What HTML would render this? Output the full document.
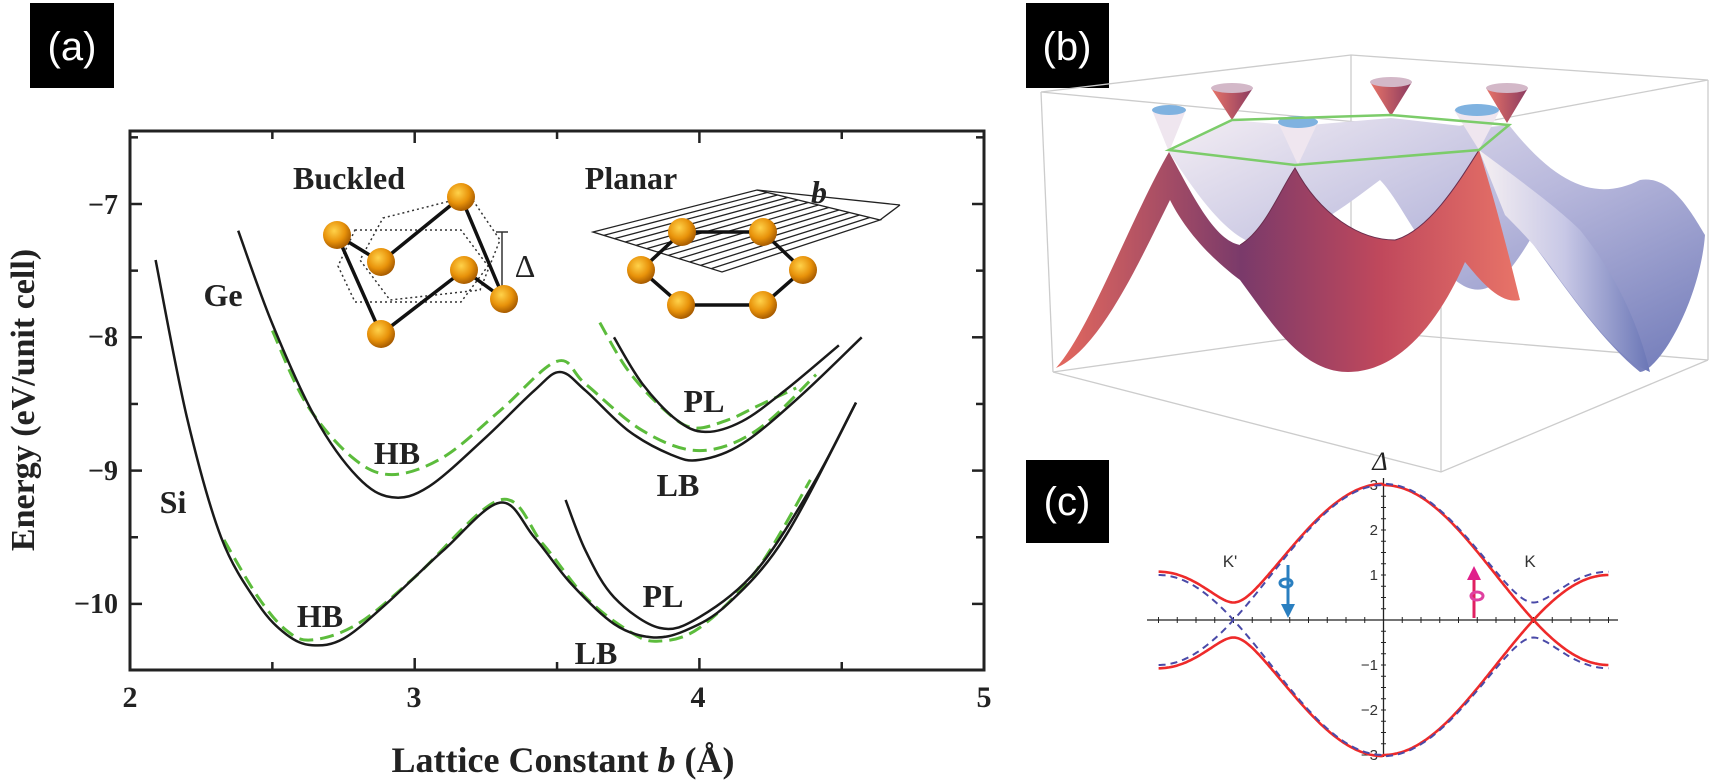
<!DOCTYPE html>
<html><head><meta charset="utf-8"><style>
html,body{margin:0;padding:0;background:#fff;}
svg{display:block;}
.t{font-family:"Liberation Serif",serif;font-weight:bold;fill:#222;}
.s{font-family:"Liberation Sans",sans-serif;fill:#333;}
</style></head><body>
<svg id="sv" width="1710" height="784" viewBox="0 0 1710 784" xmlns="http://www.w3.org/2000/svg">
<defs>
<radialGradient id="atom" cx="0.4" cy="0.35" r="0.65"><stop offset="0" stop-color="#ffd24a"/><stop offset="0.6" stop-color="#e8920a"/><stop offset="1" stop-color="#a85c00"/></radialGradient>
<linearGradient id="red1" x1="0" y1="0" x2="1" y2="0"><stop offset="0" stop-color="#e4685e"/><stop offset="0.4" stop-color="#7a3a6a"/><stop offset="0.7" stop-color="#c0485c"/><stop offset="1" stop-color="#e87468"/></linearGradient>
<linearGradient id="wb" x1="0" y1="0" x2="1" y2="1"><stop offset="0" stop-color="#f4eef4"/><stop offset="0.5" stop-color="#b8b8dc"/><stop offset="1" stop-color="#6f79b8"/></linearGradient>
<linearGradient id="wb2" x1="0" y1="0" x2="1" y2="0"><stop offset="0" stop-color="#f6f0f2"/><stop offset="0.5" stop-color="#c8c8e6"/><stop offset="1" stop-color="#6a76b6"/></linearGradient>
<linearGradient id="cone" x1="0" y1="0" x2="1" y2="0"><stop offset="0" stop-color="#e87468"/><stop offset="1" stop-color="#8a3a60"/></linearGradient>
</defs>

<rect x="30" y="3" width="84" height="85" fill="#000"/>
<text x="72" y="60" text-anchor="middle" font-family="Liberation Sans,sans-serif" font-size="40" fill="#fff">(a)</text>

<rect x="130" y="131" width="854" height="539" fill="none" stroke="#222" stroke-width="3"/>
<g id="ticks" stroke="#222" stroke-width="2.5"></g>
<g class="t" font-size="28" text-anchor="end">
<text x="118" y="214">−7</text><text x="118" y="346">−8</text><text x="118" y="480">−9</text><text x="118" y="613">−10</text>
</g>
<g class="t" font-size="30" text-anchor="middle">
<text x="130" y="707">2</text><text x="414" y="707">3</text><text x="698" y="707">4</text><text x="984" y="707">5</text>
</g>
<text class="t" x="563" y="772" font-size="36" text-anchor="middle">Lattice Constant <tspan font-style="italic">b</tspan> (Å)</text>
<text class="t" transform="translate(34,400) rotate(-90)" font-size="34" text-anchor="middle">Energy (eV/unit cell)</text>

<g id="curves" fill="none"></g>

<g class="t" font-size="32" text-anchor="middle">
<text x="349" y="189">Buckled</text><text x="631" y="189">Planar</text>
<text x="223" y="306">Ge</text><text x="173" y="513">Si</text>
<text x="397" y="464">HB</text><text x="704" y="412">PL</text><text x="678" y="496">LB</text>
<text x="320" y="627">HB</text><text x="663" y="607">PL</text><text x="596" y="664">LB</text>
<text x="819" y="203" font-style="italic">b</text>
<text x="525" y="277" font-weight="normal">Δ</text>
</g>

<g fill="none" stroke="#333" stroke-width="1.5" stroke-dasharray="2,3">
<polygon points="355,230 461,230 488,266 461,302 355,302 338,266"/>
<polygon points="383,218 470,196 500,240 480,290 390,300 360,260"/>
</g>
<line x1="502" y1="232" x2="502" y2="300" stroke="#333" stroke-width="1.5"/>
<line x1="496" y1="232" x2="508" y2="232" stroke="#333" stroke-width="1.5"/>
<g stroke="#111" stroke-width="3.5">
<polyline fill="none" points="337,235 381,262 461,197 504,299 464,270 381,334 337,235"/>
</g>
<g fill="url(#atom)">
<circle cx="337" cy="235" r="14"/><circle cx="381" cy="262" r="14"/><circle cx="461" cy="197" r="14"/>
<circle cx="464" cy="270" r="14"/><circle cx="504" cy="299" r="14"/><circle cx="381" cy="334" r="14"/>
</g>
<g id="plane" stroke="#222" stroke-width="1.3" fill="none"></g>
<g stroke="#111" stroke-width="3.5" fill="none">
<polygon points="682,232 763,232 803,270 763,305 681,305 641,270"/>
</g>
<g fill="url(#atom)">
<circle cx="682" cy="232" r="14"/><circle cx="763" cy="232" r="14"/><circle cx="641" cy="270" r="14"/>
<circle cx="803" cy="270" r="14"/><circle cx="681" cy="305" r="14"/><circle cx="763" cy="305" r="14"/>
</g>

<rect x="1026" y="3" width="83" height="85" fill="#000"/>
<text x="1067" y="60" text-anchor="middle" font-family="Liberation Sans,sans-serif" font-size="40" fill="#fff">(b)</text>
<g stroke="#ccc" stroke-width="1.3" fill="none">
<polyline points="1041,92 1351,55 1708,80 1441,130 1041,92"/>
<line x1="1041" y1="92" x2="1053" y2="372"/>
<line x1="1441" y1="130" x2="1441" y2="472"/>
<line x1="1708" y1="80" x2="1708" y2="360"/>
<line x1="1351" y1="55" x2="1351" y2="330"/>
<polyline points="1053,372 1441,472 1708,360"/>
<polyline points="1053,372 1351,330 1708,360"/>
</g>
<path d="M1169,152 L1232,120 L1298,126 L1391,118 L1479,128 L1509,125 C1560,190 1600,200 1640,180 C1670,175 1690,210 1705,235 C1700,300 1660,370 1640,372 C1600,340 1560,280 1530,240 C1500,290 1480,300 1455,280 C1420,250 1400,200 1380,180 C1340,210 1300,240 1260,245 C1230,240 1200,200 1169,152 Z" fill="url(#wb)"/>
<path d="M1479,150 C1520,180 1560,210 1580,230 C1620,280 1640,330 1650,372 C1620,360 1590,320 1560,280 C1540,250 1520,230 1505,215 Z" fill="url(#wb2)"/>
<path d="M1056,368 C1090,330 1130,220 1169,152 C1195,200 1215,240 1240,245 C1265,230 1280,190 1295,168 C1320,215 1360,240 1395,240 C1430,230 1460,180 1479,150 C1495,200 1510,260 1520,300 C1500,305 1480,280 1465,262 C1440,320 1400,372 1348,372 C1300,372 1270,320 1240,280 C1200,250 1180,220 1170,200 C1140,260 1100,350 1056,368 Z" fill="url(#red1)"/>
<path d="M1240,245 C1265,230 1280,190 1295,168 C1320,215 1360,240 1395,240 C1430,230 1460,180 1479,150" fill="none" stroke="#6a2e4e" stroke-width="1"/>
<g>
<polygon points="1211,88 1253,88 1232,120" fill="url(#cone)"/><ellipse cx="1232" cy="88" rx="21" ry="5" fill="#d3b8c8"/>
<polygon points="1370,82 1412,82 1391,116" fill="url(#cone)"/><ellipse cx="1391" cy="82" rx="21" ry="5" fill="#d3b8c8"/>
<polygon points="1486,88 1528,88 1507,123" fill="url(#cone)"/><ellipse cx="1507" cy="88" rx="21" ry="5" fill="#d3b8c8"/>
<polygon points="1152,110 1186,110 1169,152" fill="#efe6ef"/><ellipse cx="1169" cy="110" rx="17" ry="5" fill="#7fb2e0"/>
<polygon points="1278,122 1318,122 1298,165" fill="#efe6ef"/><ellipse cx="1298" cy="122" rx="20" ry="6" fill="#7fb2e0"/>
<polygon points="1454,110 1500,110 1479,150" fill="#efe6ef"/><ellipse cx="1477" cy="110" rx="22" ry="6" fill="#7fb2e0"/>
</g>
<polygon points="1169,150 1232,120 1391,115 1509,125 1479,150 1295,165" fill="none" stroke="#7ccc6a" stroke-width="2.5"/>

<rect x="1026" y="460" width="83" height="83" fill="#000"/>
<text x="1067" y="515" text-anchor="middle" font-family="Liberation Sans,sans-serif" font-size="40" fill="#fff">(c)</text>
<g stroke="#222" stroke-width="1.3">
<line x1="1147" y1="620" x2="1618" y2="620"/>
<line x1="1383.5" y1="478" x2="1383.5" y2="757"/>
</g>
<g id="cticks" stroke="#222" stroke-width="1"></g>
<g class="s" font-size="15" text-anchor="end">
<text x="1378" y="490">3</text><text x="1378" y="535">2</text><text x="1378" y="580">1</text>
<text x="1378" y="670">−1</text><text x="1378" y="715">−2</text><text x="1378" y="760">−3</text>
</g>
<text x="1380" y="470" font-family="Liberation Serif,serif" font-style="italic" font-size="26" text-anchor="middle" fill="#222">Δ</text>
<text class="s" x="1230" y="567" font-size="17" text-anchor="middle">K'</text>
<text class="s" x="1530" y="567" font-size="17" text-anchor="middle">K</text>
<g id="ccurves" fill="none"></g>
<g stroke="#2a7fc0" stroke-width="3" fill="none">
<line x1="1288" y1="565" x2="1288" y2="608"/>
<ellipse cx="1286" cy="583" rx="6" ry="4"/>
</g>
<polygon points="1281,604 1295,604 1288,618" fill="#2a7fc0"/>
<g stroke="#e02060" stroke-width="3" fill="none">
<line x1="1474" y1="618" x2="1474" y2="578"/>
<ellipse cx="1477" cy="596" rx="6" ry="4" stroke="#e040a0"/>
</g>
<polygon points="1467,580 1481,580 1474,566" fill="#e0208a"/>
</svg>
<script>
(function(){
var NS="http://www.w3.org/2000/svg";
function el(p,tag,a){var e=document.createElementNS(NS,tag);for(var k in a)e.setAttribute(k,a[k]);p.appendChild(e);return e;}
function X(v){return 130+(v-2)*284.7;} function Y(e){return 204-(e+7)*133.3;}
var tk=document.getElementById('ticks');
for(var v=2;v<=5.001;v+=0.5){var x=X(v),L=(Math.abs(v-Math.round(v))<0.01)?12:8;el(tk,'line',{x1:x,y1:670,x2:x,y2:670-L});el(tk,'line',{x1:x,y1:131,x2:x,y2:131+L});}
for(var e=-10.5;e<=-6.5;e+=0.5){var y=Y(e);if(y<133||y>668)continue;var L=(Math.abs(e-Math.round(e))<0.01)?12:8;el(tk,'line',{x1:130,y1:y,x2:130+L,y2:y});el(tk,'line',{x1:984,y1:y,x2:984-L,y2:y});}
function path(pts){var P=pts.map(function(p){return [X(p[0]),Y(p[1])];});var d="M"+P[0][0].toFixed(1)+","+P[0][1].toFixed(1);
for(var i=0;i<P.length-1;i++){var p0=P[i-1]||P[i],p1=P[i],p2=P[i+1],p3=P[i+2]||p2;
var c1=[p1[0]+(p2[0]-p0[0])/6,p1[1]+(p2[1]-p0[1])/6],c2=[p2[0]-(p3[0]-p1[0])/6,p2[1]-(p3[1]-p1[1])/6];
d+="C"+c1[0].toFixed(1)+","+c1[1].toFixed(1)+" "+c2[0].toFixed(1)+","+c2[1].toFixed(1)+" "+p2[0].toFixed(1)+","+p2[1].toFixed(1);}return d;}
var cv=document.getElementById('curves');
var G={stroke:"#5cbc3c","stroke-width":3,"stroke-dasharray":"14,7"},B={stroke:"#1a1a1a","stroke-width":2.5};
function add(pts,s){var a={d:path(pts)};for(var k in s)a[k]=s[k];el(cv,'path',a);}
add([[2.5,-7.95],[2.62,-8.5],[2.78,-8.9],[2.92,-9.03],[3.1,-8.9],[3.3,-8.55],[3.5,-8.18],[3.6,-8.35],[3.8,-8.7],[4.0,-8.85],[4.2,-8.7],[4.41,-8.28]],G);
add([[3.65,-7.89],[3.75,-8.25],[3.88,-8.55],[3.98,-8.68],[4.1,-8.62],[4.2,-8.52],[4.34,-8.38]],G);
add([[2.33,-9.52],[2.45,-9.95],[2.55,-10.2],[2.64,-10.27],[2.8,-10.15],[3.0,-9.8],[3.3,-9.22],[3.45,-9.55],[3.6,-9.95],[3.75,-10.2],[3.85,-10.28],[4.0,-10.18],[4.2,-9.75],[4.39,-9.07]],G);
add([[2.38,-7.2],[2.5,-7.9],[2.65,-8.6],[2.8,-9.05],[2.92,-9.2],[3.05,-9.12],[3.25,-8.75],[3.42,-8.4],[3.51,-8.26],[3.6,-8.4],[3.75,-8.7],[3.9,-8.88],[4.0,-8.92],[4.15,-8.8],[4.35,-8.45],[4.57,-8.0]],B);
add([[3.70,-8.0],[3.8,-8.35],[3.92,-8.62],[4.02,-8.71],[4.15,-8.63],[4.3,-8.4],[4.49,-8.06]],B);
add([[2.09,-7.42],[2.2,-8.6],[2.32,-9.5],[2.45,-10.0],[2.55,-10.23],[2.64,-10.31],[2.75,-10.26],[2.9,-10.0],[3.1,-9.6],[3.3,-9.24],[3.42,-9.5],[3.55,-9.85],[3.7,-10.15],[3.83,-10.25],[3.95,-10.2],[4.1,-10.0],[4.3,-9.5],[4.55,-8.49]],B);
add([[3.53,-9.22],[3.6,-9.6],[3.7,-9.95],[3.86,-10.18],[4.0,-10.1],[4.2,-9.75],[4.4,-9.1],[4.55,-8.49]],B);
var pl=document.getElementById('plane');
var A=[593,232],Bp=[757,190],C=[880,220],D=[722,272];
el(pl,'polygon',{points:A+" "+Bp+" "+C+" "+D});
for(var i=1;i<12;i++){var t=i/12;el(pl,'line',{x1:A[0]+(D[0]-A[0])*t,y1:A[1]+(D[1]-A[1])*t,x2:Bp[0]+(C[0]-Bp[0])*t,y2:Bp[1]+(C[1]-Bp[1])*t});}
el(pl,'line',{x1:757,y1:190,x2:900,y2:205});el(pl,'line',{x1:880,y1:220,x2:900,y2:205});
var ct=document.getElementById('cticks');
for(var i=-12;i<=12;i++){var x=1383.5+i*18.75;if(x>1150&&x<1616)el(ct,'line',{x1:x,y1:617,x2:x,y2:623});}
for(var i=-12;i<=12;i++){var y=620+i*11.25;el(ct,'line',{x1:1381,y1:y,x2:1386,y2:y});}
var cc=document.getElementById('ccurves');
function band(sign,mL,mR){var d="";for(var i=0;i<=300;i++){var q=-Math.PI+2*Math.PI*i/300;var f=1+2*Math.cos(q);var m=q<0?mL:mR;var E=Math.sqrt(f*f+m*m)*sign;var x=1383.5+q*71.6,y=620-E*45;d+=(i?"L":"M")+x.toFixed(1)+","+y.toFixed(1);}return d;}
[1,-1].forEach(function(s){el(cc,'path',{d:band(s,0.39,0),stroke:"#ee2a2a","stroke-width":2.6});});
[1,-1].forEach(function(s){el(cc,'path',{d:band(s,0,0.39),stroke:"#4a4aa8","stroke-width":2,"stroke-dasharray":"7,5"});});
})();
</script>
</body></html>
